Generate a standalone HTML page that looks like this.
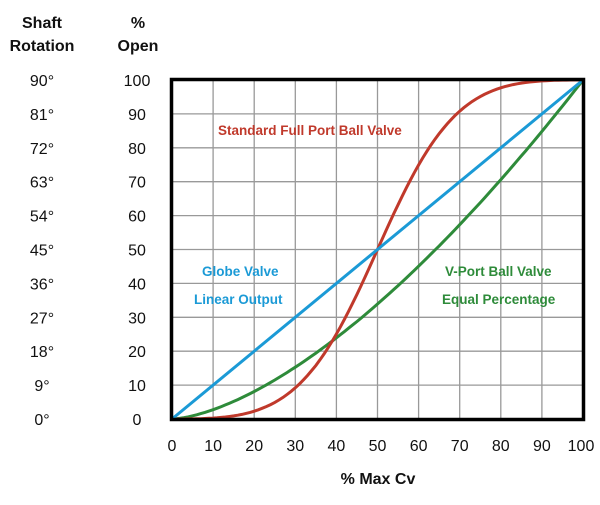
<!DOCTYPE html>
<html><head><style>body{margin:0;background:#fff}</style></head><body>
<svg width="600" height="500" xmlns="http://www.w3.org/2000/svg" font-family="Liberation Sans, sans-serif">
<rect width="600" height="500" fill="#fff"/>
<g stroke="#999" stroke-width="1.3">
<line x1="213.1" y1="80" x2="213.1" y2="419"/><line x1="254.2" y1="80" x2="254.2" y2="419"/><line x1="295.3" y1="80" x2="295.3" y2="419"/><line x1="336.4" y1="80" x2="336.4" y2="419"/><line x1="377.5" y1="80" x2="377.5" y2="419"/><line x1="418.6" y1="80" x2="418.6" y2="419"/><line x1="459.7" y1="80" x2="459.7" y2="419"/><line x1="500.8" y1="80" x2="500.8" y2="419"/><line x1="541.9" y1="80" x2="541.9" y2="419"/>
<line x1="172" y1="385.1" x2="583" y2="385.1"/><line x1="172" y1="351.2" x2="583" y2="351.2"/><line x1="172" y1="317.3" x2="583" y2="317.3"/><line x1="172" y1="283.4" x2="583" y2="283.4"/><line x1="172" y1="249.5" x2="583" y2="249.5"/><line x1="172" y1="215.6" x2="583" y2="215.6"/><line x1="172" y1="181.7" x2="583" y2="181.7"/><line x1="172" y1="147.8" x2="583" y2="147.8"/><line x1="172" y1="113.9" x2="583" y2="113.9"/>
</g>
<g fill="none" stroke-width="3">
<path id="grn" stroke="#2e8b3a"/>
<path id="red" stroke="#c0392b"/>
<line x1="172" y1="419" x2="583" y2="80" stroke="#1b9ad6"/>
</g>
<script>
function P(f){var d='';for(var i=0;i<=100;i++){var t=i/100,v=f(t);d+=(i?'L':'M')+(172+t*411).toFixed(1)+','+(419-v*339).toFixed(1);}return d;}
document.getElementById('grn').setAttribute('d',P(function(t){return Math.pow(t,1.56)}));
document.getElementById('red').setAttribute('d',P(function(t){var a=Math.pow(t,2.7),b=Math.pow(1-t,2.7);return a/(a+b)}));
</script>
<rect x="171.5" y="79.5" width="412" height="340" fill="none" stroke="#000" stroke-width="3.5"/>
<g font-size="16" fill="#111" text-anchor="middle" font-weight="bold">
<text x="42" y="28">Shaft</text><text x="42" y="51">Rotation</text>
<text x="138" y="28">%</text><text x="138" y="51">Open</text>
<text x="378" y="484">% Max Cv</text>
</g>
<g font-size="16" fill="#111" text-anchor="middle">
<text x="42" y="425">0°</text><text x="42" y="391.1">9°</text><text x="42" y="357.2">18°</text><text x="42" y="323.3">27°</text><text x="42" y="289.4">36°</text><text x="42" y="255.5">45°</text><text x="42" y="221.6">54°</text><text x="42" y="187.7">63°</text><text x="42" y="153.8">72°</text><text x="42" y="119.9">81°</text><text x="42" y="86">90°</text>
<text x="137" y="425">0</text><text x="137" y="391.1">10</text><text x="137" y="357.2">20</text><text x="137" y="323.3">30</text><text x="137" y="289.4">40</text><text x="137" y="255.5">50</text><text x="137" y="221.6">60</text><text x="137" y="187.7">70</text><text x="137" y="153.8">80</text><text x="137" y="119.9">90</text><text x="137" y="86">100</text>
<text x="172" y="451">0</text><text x="213.1" y="451">10</text><text x="254.2" y="451">20</text><text x="295.3" y="451">30</text><text x="336.4" y="451">40</text><text x="377.5" y="451">50</text><text x="418.6" y="451">60</text><text x="459.7" y="451">70</text><text x="500.8" y="451">80</text><text x="541.9" y="451">90</text><text x="581" y="451">100</text>
</g>
<g font-size="13.5" font-weight="bold">
<text x="218" y="135" fill="#c0392b">Standard Full Port Ball Valve</text>
<text x="202" y="276" fill="#1b9ad6">Globe Valve</text>
<text x="194" y="304" fill="#1b9ad6">Linear Output</text>
<text x="445" y="276" fill="#2e8b3a">V-Port Ball Valve</text>
<text x="442" y="304" fill="#2e8b3a">Equal Percentage</text>
</g>
</svg>
</body></html>
